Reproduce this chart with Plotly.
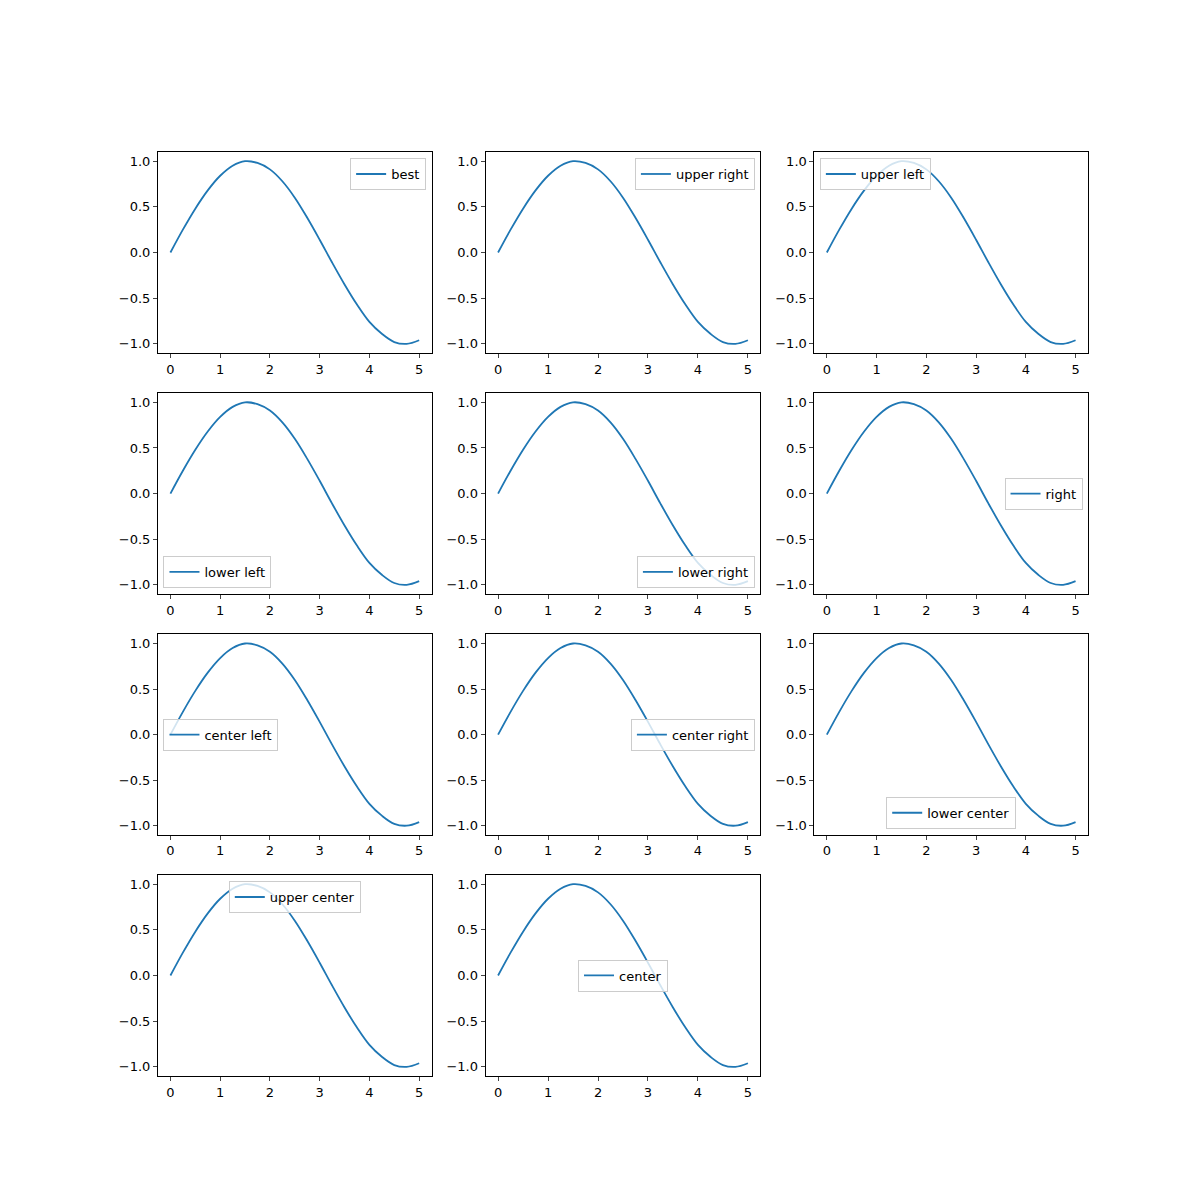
import plotly.graph_objects as go

# curve values (same curve in every panel)
x_vals = [0, 0.25, 0.5, 0.75, 1.0, 1.25, 1.5, 1.75, 2.0, 2.25, 2.5,
          2.75, 3.0, 3.25, 3.5, 3.75, 4.0, 4.25, 4.5, 4.75, 5.0]
y_vals = [0, 0.25, 0.48, 0.68, 0.84, 0.95, 1.0, 0.98, 0.91, 0.78, 0.60,
          0.38, 0.14, -0.11, -0.35, -0.57, -0.76, -0.89, -0.98, -1.0, -0.96]

locs = ["best", "upper right", "upper left", "lower left", "lower right", "right",
        "center left", "center right", "lower center", "upper center", "center"]

# axes fraction anchor for each legend location
loc_pos = {
    "best": (0.98, 0.97, "right", "top"),
    "upper right": (0.98, 0.97, "right", "top"),
    "upper left": (0.02, 0.97, "left", "top"),
    "lower left": (0.02, 0.03, "left", "bottom"),
    "lower right": (0.98, 0.03, "right", "bottom"),
    "right": (0.98, 0.5, "right", "middle"),
    "center left": (0.02, 0.5, "left", "middle"),
    "center right": (0.98, 0.5, "right", "middle"),
    "lower center": (0.5, 0.03, "center", "bottom"),
    "upper center": (0.5, 0.97, "center", "top"),
    "center": (0.5, 0.5, "center", "middle"),
}

col_dom = [(0.125, 0.353), (0.398, 0.627), (0.672, 0.9)]
row_dom = [(0.7125, 0.88), (0.5117, 0.679), (0.311, 0.478), (0.11, 0.2775)]

fig = go.Figure()
layout = {}
font = dict(family="DejaVu Sans", size=13, color="black")

for i, loc in enumerate(locs):
    r, c = divmod(i, 3)
    n = "" if i == 0 else str(i + 1)
    xd, yd = col_dom[c], row_dom[r]
    fig.add_trace(go.Scatter(x=x_vals, y=y_vals, mode="lines", name=loc,
                             line=dict(color="#1f77b4", width=1.8, shape="spline"),
                             xaxis="x" + n, yaxis="y" + n, legend="legend" + n))
    ax = dict(showline=True, linecolor="black", linewidth=1, mirror=True,
              ticks="outside", ticklen=4, showgrid=False, zeroline=False,
              tickfont=font)
    layout["xaxis" + n] = dict(ax, domain=list(xd), anchor="y" + n,
                               range=[-0.25, 5.25], tickvals=[0, 1, 2, 3, 4, 5])
    layout["yaxis" + n] = dict(ax, domain=list(yd), anchor="x" + n,
                               range=[-1.1, 1.1], tickvals=[-1, -0.5, 0, 0.5, 1],
                               ticktext=["−1.0", "−0.5", "0.0", "0.5", "1.0"])
    fx, fy, xa, ya = loc_pos[loc]
    layout["legend" + n] = dict(
        x=xd[0] + fx * (xd[1] - xd[0]), y=yd[0] + fy * (yd[1] - yd[0]),
        xanchor=xa, yanchor=ya, bgcolor="rgba(255,255,255,0.8)",
        bordercolor="#cccccc", borderwidth=1, font=font)

fig.update_layout(**layout)
fig.update_layout(width=1200, height=1200, margin=dict(l=0, r=0, t=0, b=0),
                  plot_bgcolor="white", paper_bgcolor="white", showlegend=True)
fig.write_html("out.html")
